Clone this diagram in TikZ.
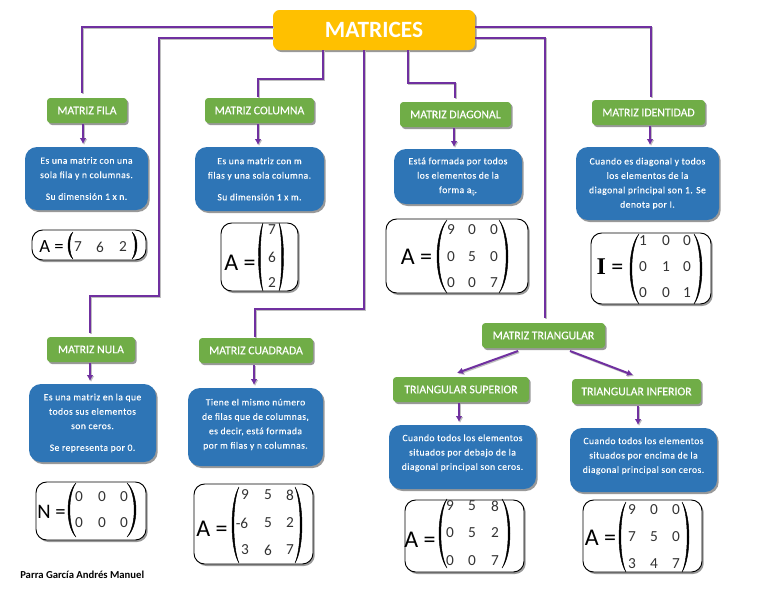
\documentclass[tikz,border=0pt]{standalone}
\usepackage{fontspec}
\setmainfont{Carlito}
\newfontfamily\spacedfont[LetterSpace=4.5,FakeBold=0.2]{Carlito}
\newfontfamily\headfont[FakeBold=0.2]{Carlito}
\usetikzlibrary{arrows.meta,shadows}
\definecolor{cOrange}{HTML}{FFC000}
\definecolor{cGreen}{HTML}{70AD47}
\definecolor{cBlue}{HTML}{2E75B6}
\definecolor{cPurple}{HTML}{7030A0}
\tikzset{
  softshadow/.style={drop shadow={shadow xshift=1.3pt,shadow yshift=-1.5pt,fill=black,opacity=.4}},
  frame/.style={rectangle,inner sep=0pt,outer sep=0pt},
  titlebox/.style={frame,rounded corners=5pt,fill=cOrange,softshadow,text=white,font=\bfseries\fontsize{17.5}{20}\selectfont},
  greenbox/.style={frame,rounded corners=2.5pt,fill=cGreen,softshadow},
  greentext/.style={inner sep=0pt,text=white,font=\headfont\fontsize{8.8}{10}\selectfont},
  bluebox/.style={frame,rounded corners=9pt,fill=cBlue,softshadow},
  bluetext/.style={text=white,align=center,inner sep=0pt,font=\spacedfont\fontsize{7.2}{10.8}\selectfont},
  matbox/.style={frame,rounded corners=8pt,draw=black,line width=.7pt,fill=white,softshadow},
  eqlabel/.style={inner sep=0pt,font=\fontsize{18}{20}\selectfont},
  digit/.style={inner sep=0pt,text=black!80,font=\fontsize{11.5}{12}\selectfont},
  link/.style={draw=cPurple,line width=1.5pt,line join=miter,preaction={draw=black!25,line width=1.5pt,transform canvas={xshift=.8pt,yshift=-.8pt}}},
  flow/.style={link,-{Latex[length=4.5pt,width=5pt]}},
}
\newcommand{\placebox}[6]{% style, name, x1,y1,x2,y2
  \node[#1,minimum width={(#5-#3)*0.75pt},minimum height={(#6-#4)*0.75pt}] (#2) at ({(#3+#5)/2},{(#4+#6)/2}) {};}
\newcommand{\bparen}[4]{% tip x, belly x, top, bottom
  \pgfmathsetmacro{\pcx}{#1+(#2-#1)/0.75}%
  \pgfmathsetmacro{\pci}{\pcx+((#2>#1)?-2.4:2.4)}%
  \pgfmathsetmacro{\pya}{#3+(#4-#3)*.2}%
  \pgfmathsetmacro{\pyb}{#4-(#4-#3)*.2}%
  \filldraw[black,line width=.35pt,line join=round] (#1,#3) .. controls (\pcx,\pya) and (\pcx,\pyb) .. (#1,#4)
    .. controls (\pci,\pyb) and (\pci,\pya) .. cycle;}
\begin{document}
\begin{tikzpicture}[x=0.75pt,y=-0.75pt]
\useasboundingbox (0,0) rectangle (768,594);
\fill[white] (0,0) rectangle (768,594);

% main
\node[titlebox,minimum width=151.5pt,minimum height=30pt] (title) at (374,30) {MATRICES};

% green headers
\placebox{greenbox}{fila}{47}{98}{127}{123}
\placebox{greenbox}{col}{205}{98}{314}{123}
\placebox{greenbox}{diag}{400}{102}{511}{127}
\placebox{greenbox}{iden}{592}{100}{705}{125}
\placebox{greenbox}{nula}{47}{337}{135}{362}
\placebox{greenbox}{cuad}{199}{338}{313}{363}
\placebox{greenbox}{tri}{482}{323}{605}{348}
\placebox{greenbox}{sup}{393}{377}{529}{402}
\placebox{greenbox}{inf}{572}{379}{701}{404}
\node[greentext] (filaT) at (fila) {MATRIZ FILA};
\node[greentext] (colT) at (col) {MATRIZ COLUMNA};
\node[greentext] (diagT) at (diag) {MATRIZ DIAGONAL};
\node[greentext] (idenT) at (iden) {MATRIZ IDENTIDAD};
\node[greentext] (nulaT) at (nula) {MATRIZ NULA};
\node[greentext] (cuadT) at (cuad) {MATRIZ CUADRADA};
\node[greentext] (triT) at (tri) {MATRIZ TRIANGULAR};
\node[greentext] (supT) at (sup) {TRIANGULAR SUPERIOR};
\node[greentext] (infT) at (inf) {TRIANGULAR INFERIOR};

% blue definitions
\placebox{bluebox}{bfila}{25}{147}{148}{210}
\placebox{bluebox}{bcol}{195}{147}{324}{211}
\placebox{bluebox}{bdiag}{394}{149}{522}{204}
\placebox{bluebox}{biden}{576}{147}{719}{220}
\placebox{bluebox}{bnula}{29}{384}{156}{462}
\placebox{bluebox}{bcuad}{188}{388}{323}{466}
\placebox{bluebox}{bsup}{389}{425}{536}{489}
\placebox{bluebox}{binf}{570}{428}{717}{492}
\node[bluetext] (tfila) at (bfila) {Es una matriz con una\\sola fila y n columnas.\\[5.5pt]Su dimensión 1 x n.};
\node[bluetext] (tcol) at (bcol) {Es una matriz con m\\filas y una sola columna.\\[5.5pt]Su dimensión 1 x m.};
\node[bluetext] (tdiag) at (bdiag) {Está formada por todos\\los elementos de la\\forma a{\fontsize{4.5}{5}\selectfont\raisebox{-1pt}{ij}}.};
\node[bluetext] (tiden) at (biden) {Cuando es diagonal y todos\\los elementos de la\\diagonal principal son 1. Se\\denota por I.};
\node[bluetext] (tnula) at (bnula) {Es una matriz en la que\\todos sus elementos\\son ceros.\\[5.5pt]Se representa por 0.};
\node[bluetext] (tcuad) at ([yshift=1.9pt]bcuad) {Tiene el mismo número\\de filas que de columnas,\\es decir, está formada\\por m filas y n columnas.};
\node[bluetext] (tsup) at ([yshift=3pt]bsup) {Cuando todos los elementos\\situados por debajo de la\\diagonal principal son ceros.};
\node[bluetext] (tinf) at ([yshift=3pt]binf) {Cuando todos los elementos\\situados por encima de la\\diagonal principal son ceros.};

% connectors from the title
\draw[link,shorten >=3.75pt] (title.west |- 0,27) -| (82,0 |- fila.north);
\draw[link,shorten >=3pt] (title.west |- 0,38) -- (159,38) -- (159,296) -- (90,296) -- (90,0 |- nula.north);
\draw[link,shorten >=.75pt] (323,0 |- title.south) -- (323,79) -- (258,79) -- (258,0 |- col.north);
\draw[link,shorten >=3pt] (408,0 |- title.south) -- (408,83) -- (455,83) -- (455,0 |- diag.north);
\draw[link,shorten >=.75pt] (364,0 |- title.south) -- (364,309) -- (255,309) -- (255,0 |- cuad.north);
\draw[link,shorten >=2.25pt] (title.east |- 0,27) -| (651,0 |- iden.north);
\draw[link,shorten >=3.75pt] (title.east |- 0,38) -| (545,0 |- tri.north);

% arrows
\draw[flow,shorten <=.75pt,shorten >=2.25pt] (83,0 |- fila.south) -- (83,0 |- bfila.north);
\draw[flow,shorten <=.75pt,shorten >=1.5pt] (258,0 |- col.south) -- (258,0 |- bcol.north);
\draw[flow,shorten <=.75pt,shorten >=1.5pt] (454,0 |- diag.south) -- (454,0 |- bdiag.north);
\draw[flow,shorten <=.75pt,shorten >=1.5pt] (650,0 |- iden.south) -- (650,0 |- biden.north);
\draw[flow,shorten <=.75pt,shorten >=2.25pt] (90,0 |- nula.south) -- (90,0 |- bnula.north);
\draw[flow,shorten <=1.5pt,shorten >=2.25pt] (254,0 |- cuad.south) -- (254,0 |- bcuad.north);
\draw[flow] ([yshift=-2.25pt]518,0 |- tri.south) -- ([yshift=3pt]457,0 |- sup.north);
\draw[flow] ([yshift=-2.25pt]570,0 |- tri.south) -- ([yshift=3pt]633,0 |- inf.north);
\draw[flow,shorten <=.75pt,shorten >=2.25pt] (459,0 |- sup.south) -- (459,0 |- bsup.north);
\draw[flow,shorten <=1.5pt,shorten >=2.25pt] (638,0 |- inf.south) -- (638,0 |- binf.north);

% matrix frames
\placebox{matbox}{mfila}{32}{230}{146}{260}
\placebox{matbox}{mcol}{221}{223}{298}{291}
\placebox{matbox}{mdiag}{386}{219}{528}{293}
\placebox{matbox}{miden}{591}{233}{711}{304}
\placebox{matbox}{mnula}{36}{482}{146}{540}
\placebox{matbox}{mcuad}{194}{484}{313}{564}
\placebox{matbox}{msup}{405}{500}{524}{572}
\placebox{matbox}{minf}{583}{500}{702}{572}

% matrix contents
\node[eqlabel,font=\fontsize{14}{16}\selectfont] (efila) at (51.5,247) {A =};
\bparen{73}{68}{232}{259}\bparen{132}{137}{232}{259}
\foreach \px/\py/\t [count=\i] in {78/247/7,100/247/6,123/247/2} \node[digit] (dfila\i) at (\px,\py) {\t};

\node[eqlabel] (ecol) at (240,263) {A =};
\bparen{263}{258.5}{223}{291}\bparen{279}{283.5}{223}{291}
\foreach \px/\py/\t [count=\i] in {272/230/7,272/257/6,272/283/2} \node[digit] (dcol\i) at (\px,\py) {\t};

\node[eqlabel] (ediag) at (416.5,257) {A =};
\bparen{447}{437}{220}{293}\bparen{499}{508}{220}{293}
\foreach \px/\py/\t [count=\i] in {451/230/9,472/230/0,494/230/0,451/257/0,472/257/5,494/257/0,451/283/0,472/283/0,494/283/7} \node[digit] (ddiag\i) at (\px,\py) {\t};

\node[inner sep=0pt,font=\fontsize{18}{20}\selectfont] (eiden) at (610,267) {\textbf{\fontspec{Liberation Serif}I} =};
\bparen{639}{630}{234}{304}\bparen{694}{702}{234}{304}
\foreach \px/\py/\t [count=\i] in {643/241/1,666/241/0,687/241/0,643/267/0,666/267/1,687/267/0,643/293/0,666/293/0,687/293/1} \node[digit] (diden\i) at (\px,\py) {\t};

\node[eqlabel,font=\fontsize{15.5}{17}\selectfont] (enula) at (51.5,512) {N =};
\bparen{76}{68}{483}{537}\bparen{127}{136}{483}{537}
\foreach \px/\py/\t [count=\i] in {79/497/0,102/497/0,124/497/0,79/523/0,102/523/0,124/523/0} \node[digit] (dnula\i) at (\px,\py) {\t};

\node[eqlabel] (ecuad) at (212,529) {A =};
\bparen{239}{232}{487}{563}\bparen{295}{302}{487}{563}
\foreach \px/\py/\t [count=\i] in {245/495/9,268/495/5,290/495/8,242/523/-6,268/523/5,290/523/2,245/550/3,268/550/6,290/550/7} \node[digit] (dcuad\i) at (\px,\py) {\t};

\node[eqlabel] (esup) at (420,540) {A =};
\bparen{447}{439}{499}{568}\bparen{502}{510}{499}{568}
\foreach \px/\py/\t [count=\i] in {450/506/9,472/506/5,495/506/8,450/533/0,472/533/5,495/533/2,450/561/0,472/561/0,495/561/7} \node[digit] (dsup\i) at (\px,\py) {\t};

\node[eqlabel] (einf) at (600.5,538) {A =};
\bparen{626}{619}{502}{572}\bparen{682}{689}{502}{572}
\foreach \px/\py/\t [count=\i] in {632/510/9,654/510/0,676/510/0,632/537/7,654/537/5,676/537/0,632/564/3,654/564/4,676/564/7} \node[digit] (dinf\i) at (\px,\py) {\t};

% author
\node[anchor=west,inner sep=0pt,font=\bfseries\fontsize{8}{9}\selectfont] (author) at (20,575) {Parra García Andrés Manuel};
\end{tikzpicture}
\end{document}
